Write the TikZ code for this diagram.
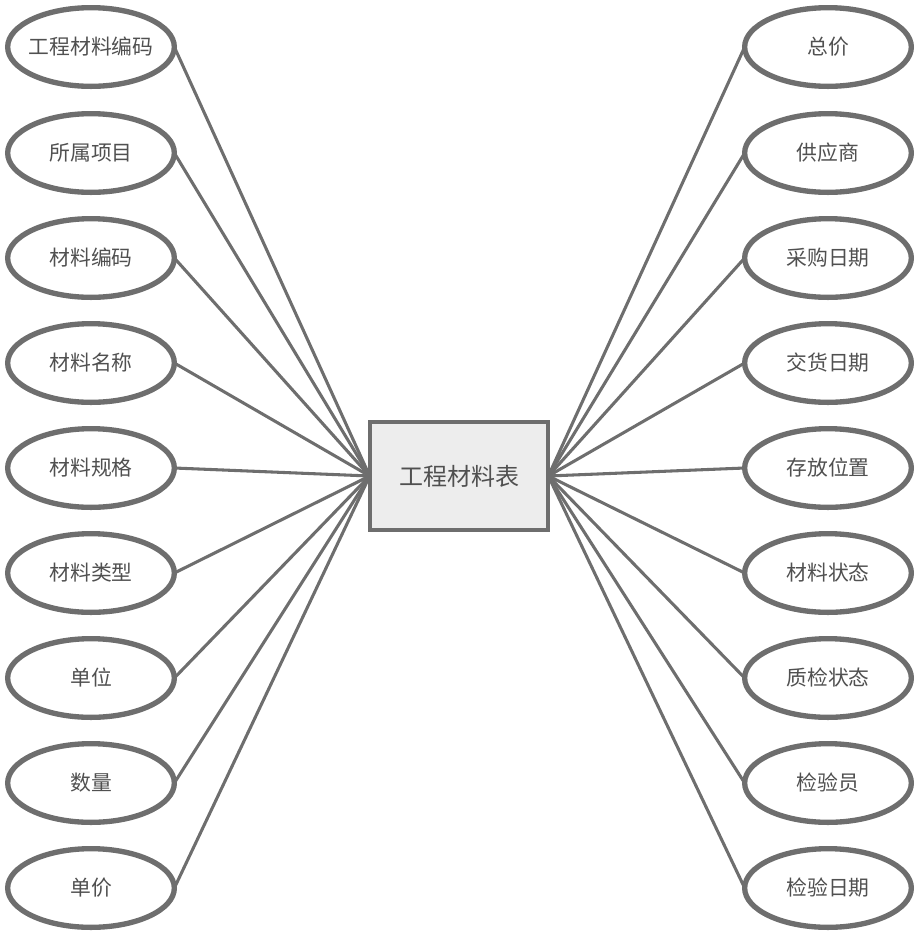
\documentclass[tikz,border=0pt]{standalone}
\usepackage{fontspec}
\setmainfont{Noto Sans CJK SC}
\usetikzlibrary{shapes.geometric}
\definecolor{edge}{HTML}{6E6E6E}
\definecolor{txt}{HTML}{505050}
\definecolor{boxfill}{HTML}{EDEDED}
\newcommand{\mylbl}[1]{\makebox[0pt]{#1}}
\tikzset{
  attr/.style={ellipse, draw=edge, line width=4pt, fill=white, inner sep=0pt, outer sep=0pt,
    minimum width=125pt, minimum height=59pt, text=txt, font=\fontsize{15.6pt}{18pt}\selectfont},
  entity/.style={rectangle, draw=edge, line width=3pt, fill=boxfill, inner sep=0pt, outer sep=0pt,
    minimum width=134pt, minimum height=81pt, text=txt, font=\fontsize{18pt}{22pt}\selectfont},
  link/.style={draw=edge, line width=2.3pt}
}
\begin{document}
\begin{tikzpicture}[x=0.75pt,y=-0.75pt]
\useasboundingbox (0,0) rectangle (917,951);
\node[entity] (E) at (459,476) {工程材料表};
\node[attr] (L1) at (91,47) {\mylbl{工程材料编码}};
\node[attr] (L2) at (91,153) {\mylbl{所属项目}};
\node[attr] (L3) at (91,258) {\mylbl{材料编码}};
\node[attr] (L4) at (91,363) {\mylbl{材料名称}};
\node[attr] (L5) at (91,468) {\mylbl{材料规格}};
\node[attr] (L6) at (91,573) {\mylbl{材料类型}};
\node[attr] (L7) at (91,678) {\mylbl{单位}};
\node[attr] (L8) at (91,783) {\mylbl{数量}};
\node[attr] (L9) at (91,888) {\mylbl{单价}};
\node[attr] (R1) at (828,47) {\mylbl{总价}};
\node[attr] (R2) at (828,153) {\mylbl{供应商}};
\node[attr] (R3) at (828,258) {\mylbl{采购日期}};
\node[attr] (R4) at (828,363) {\mylbl{交货日期}};
\node[attr] (R5) at (828,468) {\mylbl{存放位置}};
\node[attr] (R6) at (828,573) {\mylbl{材料状态}};
\node[attr] (R7) at (828,678) {\mylbl{质检状态}};
\node[attr] (R8) at (828,783) {\mylbl{检验员}};
\node[attr] (R9) at (828,888) {\mylbl{检验日期}};
\foreach \i in {1,...,9} {
  \draw[link] (L\i.east) -- (E.west);
  \draw[link] (R\i.west) -- (E.east);
}
\end{tikzpicture}
\end{document}
